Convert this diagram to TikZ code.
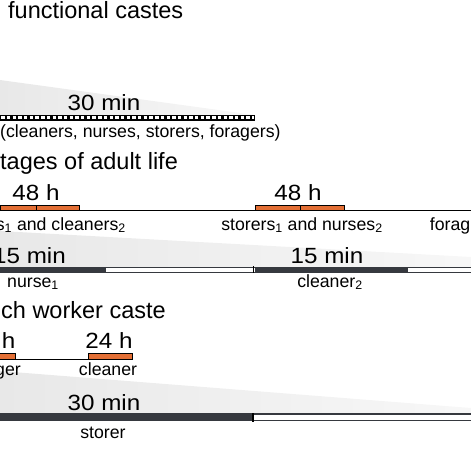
\documentclass[tikz,border=0pt]{standalone}
\usepackage{fontspec}
\setmainfont{Liberation Sans}
\newfontfamily\numfont[FakeStretch=1.1]{Liberation Sans}
\usepackage{tikz}
\usepackage{xcolor}
\usetikzlibrary{positioning, calc}

\definecolor{bandorange}{HTML}{E36F35}
\definecolor{bardark}{HTML}{36393F}

\begin{document}
\begin{tikzpicture}[
    x=1pt, y=-1pt,
    title/.style={
        inner sep=0pt,
        anchor=base west,
        font=\fontsize{23.5}{26}\selectfont
    },
    duration/.style={
        inner sep=0pt,
        anchor=base,
        font=\numfont\fontsize{22}{24}\selectfont
    },
    caste/.style={
        inner sep=0pt,
        anchor=base,
        font=\fontsize{17.7}{20}\selectfont
    },
    pulse/.style={
        draw=black,
        line width=0.6pt,
        fill=bandorange
    },
    wedge/.style={
        left color=gray!18,
        right color=gray!6,
        draw=none
    },
    darkbar/.style={
        fill=bardark,
        draw=bardark,
        line width=0.8pt
    },
    openbar/.style={
        fill=white,
        draw=bardark,
        line width=0.8pt
    }
]
    \useasboundingbox (0,0) rectangle (471,471);
    \clip (0,0) rectangle (471,471);

    % =========================================================
    % GREY WEDGES BEHIND THE BARS
    % =========================================================
    \shade [wedge] (0,80) -- (255,115) -- (0,115) -- cycle;
    \shade [wedge] (0,231) -- (471,257) -- (471,267) -- (0,267) -- cycle;
    \shade [wedge] (0,371) -- (471,408) -- (471,413.5) -- (0,413.5) -- cycle;

    % =========================================================
    % FUNCTIONAL CASTES
    % =========================================================
    \node [title] (castesTitle) at (8,18.5) {functional castes};

    \fill [black] (0,114.5) rectangle (255,120.5);
    \draw [white, line width=3.6pt, dash pattern=on 3.4pt off 2.3pt]
        (1.2,117.5) -- (254,117.5);

    \node [duration] (allMin) at (104,110) {30 min};
    \node [caste, anchor=base west] (allCastes) at (0,137)
        {(cleaners, nurses, storers, foragers)};

    % =========================================================
    % STAGES OF ADULT LIFE
    % =========================================================
    \node [title] (stagesTitle) at (0,169) {tages of adult life};

    \draw [line width=0.8pt] (0,210) -- (471,210);
    \draw [pulse] (0,205) rectangle (36,210);
    \draw [pulse] (36,205) rectangle (79,210);
    \draw [pulse] (255,205) rectangle (300,210);
    \draw [pulse] (300,205) rectangle (344,210);

    \node [duration] (firstPulse) at (36,200) {48 h};
    \node [duration] (secondPulse) at (298,200) {48 h};

    \node [caste, anchor=base east] (firstPair) at (126,230)
        {s\textsubscript{1} and cleaners\textsubscript{2}};
    \node [caste] (secondPair) at (302,230)
        {storers\textsubscript{1} and nurses\textsubscript{2}};
    \node [caste, anchor=base east] (lastStage) at (470.5,230) {forag};

    \draw [darkbar] (0,267) rectangle (105,272);
    \draw [openbar] (105,267) rectangle (255,272);
    \draw [darkbar] (255,267) rectangle (407,272);
    \draw [openbar] (407,267) rectangle (472,272);
    \fill [black] (252.5,265.8) rectangle (254.2,273.2);

    \node [duration, anchor=base east] (nurseMin) at (66,263) {15 min};
    \node [duration] (cleanerMin) at (327,263) {15 min};
    \node [caste, anchor=base west] (nurseOne) at (7,287)
        {nurse\textsubscript{1}};
    \node [caste] (cleanerTwo) at (330,287) {cleaner\textsubscript{2}};

    % =========================================================
    % EACH WORKER CASTE
    % =========================================================
    \node [title] (workerTitle) at (1,318) {ch worker caste};

    \draw [line width=0.8pt] (0,359) -- (132,359);
    \draw [pulse] (-2,353.3) rectangle (15.7,359.3);
    \draw [pulse] (88,353.3) rectangle (132,359.3);

    \node [duration, anchor=base east] (foragerPulse) at (15.5,348) {h};
    \node [duration] (cleanerPulse) at (109,348) {24 h};
    \node [caste, anchor=base east] (foragerName) at (21,375) {ger};
    \node [caste] (cleanerName) at (108,375) {cleaner};

    \draw [darkbar, line width=1.5pt] (0,414.2) rectangle (253,420.3);
    \draw [openbar, line width=1.5pt] (253,414.2) rectangle (472,420.3);
    \fill [black] (252.3,412.5) rectangle (254,421.5);

    \node [duration] (storerMin) at (104,410) {30 min};
    \node [caste] (storerName) at (103,438) {storer};

\end{tikzpicture}
\end{document}
